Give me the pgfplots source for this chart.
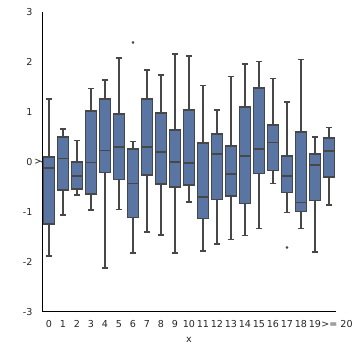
\documentclass[border=0pt]{standalone}
\usepackage{fontspec}
\setmainfont{DejaVu Sans}
\usepackage{pgfplots}
\pgfplotsset{compat=1.18}
\usepgfplotslibrary{statistics}
\definecolor{boxfill}{HTML}{5875A4}
\definecolor{boxline}{HTML}{474747}
\pgfplotsset{mybox/.style={fill=boxfill, draw=boxline, line width=1.3pt, solid, mark=*, mark size=1.1pt, mark options={fill=boxline, draw=boxline, solid, line width=0.4pt}}}
\newcommand{\bx}[6]{%
  \addplot[mybox, boxplot prepared={draw position=#1, lower whisker=#2, lower quartile=#3, median=#4, upper quartile=#5, upper whisker=#6, whisker extend=0.4}] coordinates {};
}
\begin{document}
\begin{tikzpicture}[font=\fontsize{9.6}{11}\selectfont]
\begin{axis}[
  scale only axis, width=294bp, height=300bp,
  xmin=-0.5, xmax=20.5, ymin=-3, ymax=3,
  axis x line*=bottom, axis y line*=left,
  axis line style={black, line width=1pt, -},
  xtick={0,...,20},
  xticklabels={0,1,2,3,4,5,6,7,8,9,10,11,12,13,14,15,16,17,18,19,{\hspace*{16bp}\textgreater=\ 20}},
  ytick={-3,-2,-1,0,1,2,3},
  major tick length=0pt,
  tick label style={font=\fontsize{9.6}{11}\selectfont},
  label style={font=\fontsize{9.6}{11}\selectfont},
  xticklabel style={yshift=-5bp, text=black!85, inner xsep=0pt},
  yticklabel style={xshift=-6bp, text=black!85},
  /pgf/number format/assume math mode=true,
  xlabel={x}, ylabel={y},
  xlabel style={at={(axis description cs:0.5,0)}, anchor=center, yshift=-28bp, text=black!85},
  ylabel style={at={(axis description cs:0,0.5)}, anchor=center, rotate=0, xshift=0bp, text=black!85},
  ylabel style={yshift=3bp},
  boxplot/draw direction=y,
  boxplot/box extend=0.8,
  clip=false,
]
\coordinate (sw) at (rel axis cs:0,0);
\coordinate (ne) at (rel axis cs:1,1);
\bx{0}{-1.88}{-1.24}{-0.12}{0.10}{1.26}
\bx{1}{-1.06}{-0.56}{0.07}{0.50}{0.66}
\bx{2}{-0.66}{-0.54}{-0.28}{0.00}{0.43}
\bx{3}{-0.96}{-0.64}{-0.01}{1.02}{1.47}
\bx{4}{-2.12}{-0.21}{0.23}{1.26}{1.64}
\bx{5}{-0.95}{-0.35}{0.30}{0.96}{2.08}
\addplot[mybox, boxplot prepared={draw position=6, lower whisker=-1.82, lower quartile=-1.11, median=-0.43, upper quartile=0.26, upper whisker=0.41, whisker extend=0.4}] coordinates {(6,2.39)};
\bx{7}{-1.40}{-0.26}{0.30}{1.26}{1.84}
\bx{8}{-1.46}{-0.44}{0.20}{0.98}{1.74}
\bx{9}{-1.82}{-0.50}{0.00}{0.64}{2.16}
\bx{10}{-0.80}{-0.46}{-0.02}{1.04}{2.12}
\bx{11}{-1.78}{-1.13}{-0.70}{0.38}{1.53}
\bx{12}{-1.64}{-0.75}{0.16}{0.56}{1.04}
\bx{13}{-1.55}{-0.68}{-0.24}{0.32}{1.71}
\bx{14}{-1.47}{-0.83}{0.12}{1.10}{1.96}
\bx{15}{-1.33}{-0.23}{0.26}{1.48}{2.01}
\bx{16}{-0.43}{-0.17}{0.39}{0.74}{1.67}
\addplot[mybox, boxplot prepared={draw position=17, lower whisker=-1.01, lower quartile=-0.61, median=-0.28, upper quartile=0.12, upper whisker=1.20, whisker extend=0.4}] coordinates {(17,-1.71)};
\bx{18}{-1.33}{-0.99}{-0.81}{0.60}{2.05}
\bx{19}{-1.80}{-0.77}{-0.06}{0.16}{0.50}
\bx{20}{-0.86}{-0.30}{0.22}{0.48}{0.69}
\end{axis}
\pgfresetboundingbox
\path ([shift={(-42bp,-40bp)}]sw) rectangle ([shift={(22bp,12bp)}]ne);
\end{tikzpicture}
\end{document}
